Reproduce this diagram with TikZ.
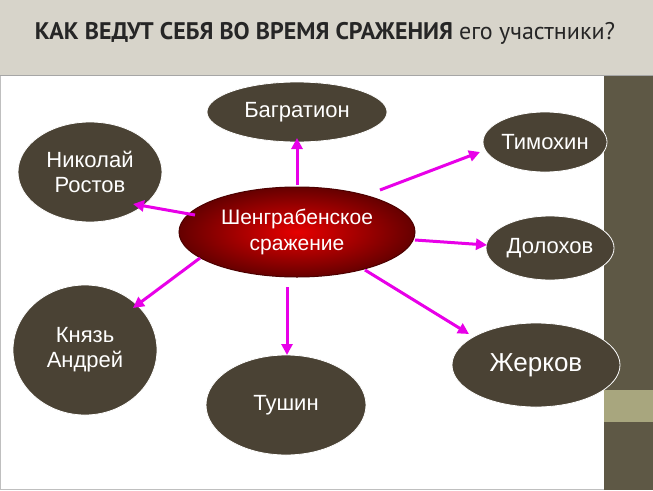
\documentclass[tikz,border=0pt]{standalone}
\usepackage{fontspec}
\setmainfont{Liberation Sans}
\newfontfamily\titlefont{PT Sans}
\usetikzlibrary{arrows.meta,shapes.geometric}
\definecolor{band}{HTML}{D7D4CA}
\definecolor{bar}{HTML}{5E5845}
\definecolor{barlt}{HTML}{A8A67E}
\definecolor{pfill}{HTML}{4A4234}
\definecolor{mag}{HTML}{E800E8}
\begin{document}
\begin{tikzpicture}[x=1pt,y=-1pt,
  pers/.style={ellipse,fill=pfill,draw=white,line width=0.8pt,text=white,font=\fontsize{22}{25}\selectfont,align=center,inner sep=0pt},
  arr/.style={draw=mag,line width=3pt,-{Triangle[length=11pt,width=11pt]}}]
\useasboundingbox (0,0) rectangle (653,490);
\fill[white] (0,0) rectangle (653,490);
\fill[band] (0,0) rectangle (653,75);
\draw[gray!70,line width=1pt] (0,75) -- (653,75);
\node[font=\titlefont\bfseries\fontsize{24}{28}\selectfont,text=black!85] (title) at (325,33) {КАК ВЕДУТ СЕБЯ ВО ВРЕМЯ СРАЖЕНИЯ \mdseries его участники?};
\fill[bar] (604,76) rectangle (653,490);
\fill[barlt] (604,390) rectangle (653,422);
\draw[gray!50] (0.5,76) -- (0.5,489.5) -- (604,489.5);
\shade[inner color=red!90!black,outer color=red!40!black,draw=red!30!black,line width=1pt] (297,232) ellipse [x radius=118,y radius=45];
\node[text=white,font=\fontsize{21}{26}\selectfont,align=center] (c) at (297,232) {Шенграбенское\\сражение};
\node[pers,minimum width=180pt,minimum height=60pt] (bag) at (297,112) {Багратион};
\node[pers,minimum width=144pt,minimum height=100pt] (ros) at (90,172) {Николай\\Ростов};
\node[pers,minimum width=124pt,minimum height=60pt] (tim) at (545,142) {Тимохин};
\node[pers,minimum width=128pt,minimum height=64pt] (dol) at (550,248) {Долохов};
\node[pers,minimum width=168pt,minimum height=84pt,font=\fontsize{26}{30}\selectfont] (zher) at (536,365) {Жерков};
\node[pers,minimum width=160pt,minimum height=100pt] (tush) at (286,405) {Тушин};
\node[pers,minimum width=144pt,minimum height=130pt] (andr) at (85,350) {Князь\\Андрей};
\coordinate (s1) at (297,185); \coordinate (e1) at (297,138);
\coordinate (s2) at (195,215); \coordinate (e2) at (133,204);
\coordinate (s3) at (380,190); \coordinate (e3) at (480,152);
\coordinate (s4) at (415,240); \coordinate (e4) at (487,245);
\coordinate (s5) at (365,270); \coordinate (e5) at (469,334);
\coordinate (s6) at (287,287); \coordinate (e6) at (287,355);
\coordinate (s7) at (200,258); \coordinate (e7) at (133,308);
\foreach \i in {1,...,7} \draw[arr] (s\i) -- (e\i);
\end{tikzpicture}
\end{document}
